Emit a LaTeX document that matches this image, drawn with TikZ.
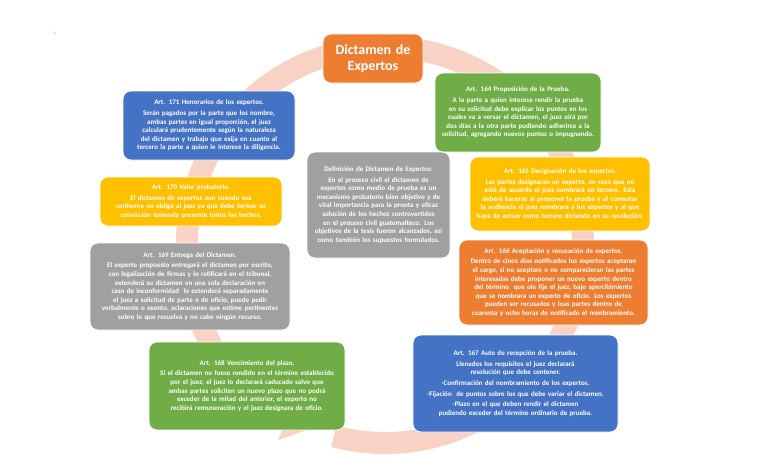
\documentclass[tikz,border=0pt]{standalone}
\usepackage{fontspec}
\setmainfont{Carlito}
\usetikzlibrary{arrows.meta}
\hyphenpenalty=10000
\exhyphenpenalty=10000
\definecolor{cOr}{HTML}{ED7D31}
\definecolor{cGr}{HTML}{70AD47}
\definecolor{cYe}{HTML}{FFC000}
\definecolor{cBl}{HTML}{4472C4}
\definecolor{cGy}{HTML}{A0A0A0}
\definecolor{cRing}{HTML}{F8D3C5}
\tikzset{
 box/.style={rounded corners=8pt, draw=white, line width=0.8pt, text=white, align=center, inner sep=1pt,
   font=\bfseries\fontsize{7}{8.6}\selectfont},
 titlebox/.style={font=\bfseries\fontsize{14}{16}\selectfont},
}
\newcommand{\bx}[7][]{%
 \node[box, fill=#3, #1, minimum width={#6-#4}, minimum height={#7-#5}, text width={#6-#4-10}] (#2) at ({(#4+#6)/2},{(#5+#7)/2})}
\begin{document}
\begin{tikzpicture}[x=1pt,y=-1pt]
\useasboundingbox (0,0) rectangle (768,466);
\fill[white] (0,0) rectangle (768,466);
\node[font=\fontsize{5}{5}\selectfont] (dot) at (55,33) {:};
\coordinate (ctr) at (385,245);
\draw[cRing, line width=22pt, -{Triangle[length=26pt,width=44pt]}] (ctr) ++(465:198) arc[start angle=465, end angle=112, radius=198];
\bx[titlebox]{tit}{cOr}{323}{34}{423}{83}{Dictamen de\\Expertos};
\bx{a164}{cGr}{435}{73}{601}{152}{Art. 164 Proposición de la Prueba.\\[2pt] A la parte a quien interese rendir la prueba en su solicitud debe explicar los puntos en los cuales va a versar el dictamen, el juez oirá por dos días a la otra parte pudiendo adherirse a la solicitud, agregando nuevos puntos o impugnando.};
\bx{a165}{cYe}{470}{157}{650}{231}{Art. 165 Designación de los expertos.\\[2pt] Las partes designaran un experto, en caso que no esté de acuerdo el juez nombrará un tercero. Esta deberá hacerse al proponer la prueba y al contestar la audiencia el juez nombrara a los expertos y al que haya de actuar como tercero dictando en su resolución.};
\bx{a166}{cOr}{459}{240}{648}{325}{Art. 166 Aceptación y recusación de expertos.\\[2pt] Dentro de cinco días notificados los expertos aceptaran el cargo, si no aceptare o no comparecieran las partes interesadas debe proponer un nuevo experto dentro del término\ \ que ole fije el juez, bajo apercibimiento que se nombrara un experto de oficio. Los expertos pueden ser recusados y loas partes dentro de cuarenta y ocho horas de notificado el nombramiento.};
\bx{a167}{cBl}{413}{335}{618}{432}{Art. 167 Auto de recepción de la prueba.\\[2pt] Llenados los requisitos el juez declarará resolución que debe contener.\\[2pt] -Confirmación del nombramiento de los expertos.\\[2pt] -Fijación\ \ de puntos sobre los que debe variar el dictamen.\\[2pt] -Plazo en el que deben rendir el dictamen pudiendo exceder del término ordinario de prueba.};
\bx{a168}{cGr}{149}{342}{345}{430}{Art. 168 Vencimiento del plazo.\\[2pt] Si el dictamen no fuese rendido en el término establecido por el juez, el juez lo declarará caducado salvo que ambas partes soliciten un nuevo plazo que no podrá exceder de la mitad del anterior, el experto no recibirá remuneración y el juez designara de oficio.};
\bx{a169}{cGy}{90}{243}{290}{330}{Art. 169 Entrega del Dictamen.\\[2pt] El experto propuesto entregará el dictamen por escrito, con legalización de firmas y lo ratificará en el tribunal, extenderá su dictamen en una sola declaración en caso de inconformidad\ \ lo extenderá separadamente el juez a solicitud de parte o de oficio, puede pedir verbalmente o exento, aclaraciones que estime pertinentes sobre lo que resuelva y no cabe ningún recurso.};
\bx{a170}{cYe}{100}{177}{282}{226}{Art. 170 Valor probatorio.\\[2pt] El dictamen de expertos aun cuando sea conforme no obliga al juez ya que debe formar su convicción teniendo presente todos los hechos.};
\bx{a171}{cBl}{123}{91}{295}{160}{Art. 171 Honorarios de los expertos.\\[2pt] Serán pagados por la parte que los nombre, ambas partes en igual proporción, el juez calculará prudentemente según la naturaleza del dictamen y trabajo que exija en cuanto al tercero la parte a quien le interese la diligencia.};
\bx{def}{cGy}{307}{152}{450}{258}{Definición de Dictamen de Expertos:\\[2pt] En el proceso civil el dictamen de expertos como medio de prueba es un mecanismo probatorio bien objetivo y de vital importancia para la pronta y eficaz solución de los hechos controvertidos en el proceso civil guatemalteco. Los objetivos de la tesis fueron alcanzados, así como también los supuestos formulados.};
\end{tikzpicture}
\end{document}
